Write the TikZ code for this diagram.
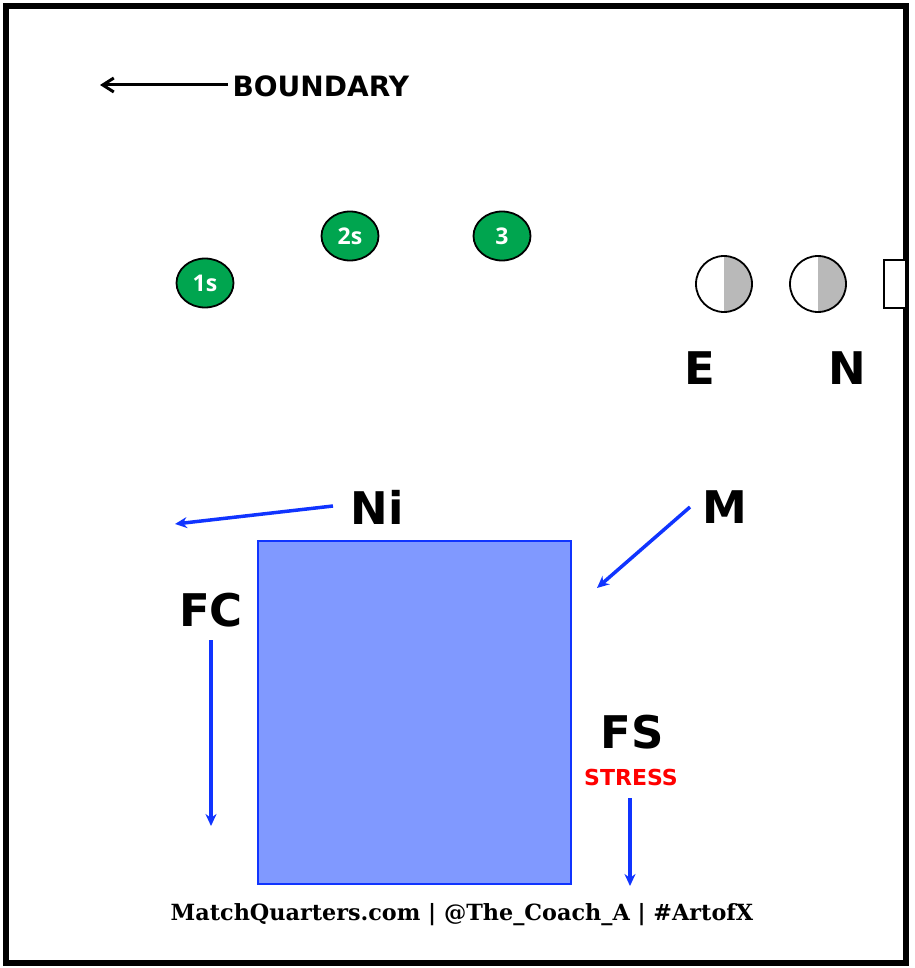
\documentclass[tikz,border=0pt]{standalone}
\usepackage{fontspec}
\setmainfont{DejaVu Sans}
\newfontfamily\serifb{DejaVu Serif}
\newfontfamily\opens{Open Sans}
\usetikzlibrary{arrows.meta,shapes.geometric}
\definecolor{pgreen}{HTML}{00A54F}
\definecolor{pblue}{HTML}{1034FF}
\definecolor{sq}{HTML}{8099FF}
\begin{document}
\begin{tikzpicture}[x=1pt,y=-1pt,
  off/.style={draw=black,line width=1.8pt,fill=pgreen,ellipse,minimum width=57pt,minimum height=49pt,inner sep=0pt,text=white,font=\opens\bfseries\fontsize{23}{23}\selectfont},
  big/.style={font=\bfseries\fontsize{45}{45}\selectfont},
  mv/.style={pblue,line width=3.5pt,-{Stealth[length=12pt,width=11pt]}}]
\useasboundingbox (0,0) rectangle (914,968);
\fill[white] (0,0) rectangle (914,968);
\draw[line width=6pt] (6,6) rectangle (906,963);
\coordinate (b1) at (228,85); \coordinate (b2) at (100,85);
\draw[line width=3pt,-{Straight Barb[length=11pt,width=14pt]}] (b1) -- (b2);
\node[anchor=west,font=\bfseries\fontsize{28}{28}\selectfont] (bt) at (229,86) {BOUNDARY};
\node[off] (o1) at (205,283) {1s};
\node[off] (o2) at (350,236) {2s};
\node[off] (o3) at (502,236) {3};
\foreach \n/\x in {e/724,n/818}{
  \fill[white] (\x,256) arc[start angle=-90,end angle=-270,radius=28];
  \fill[gray!55] (\x,256) arc[start angle=-90,end angle=90,radius=28];
  \draw[line width=1.8pt] (\x,284) circle[radius=28];
}
\draw[line width=1.8pt,fill=white] (884,260) rectangle (906,308);
\node[big] (E) at (700,368) {E};
\node[big] (N) at (847,368) {N};
\node[draw=pblue,line width=1.5pt,fill=sq,minimum width=313pt,minimum height=343pt,inner sep=0pt] (sqr) at (414.5,712.5) {};
\node[big] (Ni) at (377,507) {Ni};
\coordinate (ni2) at (175,524);
\draw[mv] (333,506) -- (ni2);
\node[big] (M) at (725,507) {M};
\coordinate (m2) at (597,588);
\draw[mv] (690,507) -- (m2);
\node[big] (FC) at (211,610) {FC};
\coordinate (fc2) at (211,826);
\draw[mv] (211,640) -- (fc2);
\node[big] (FS) at (632,732) {FS};
\node[red,font=\bfseries\fontsize{22}{22}\selectfont] (st) at (631,777) {STRESS};
\coordinate (fs2) at (630,886);
\draw[mv] (630,798) -- (fs2);
\node[font=\serifb\bfseries\fontsize{22.3}{22}\selectfont] (ft) at (462,915) {MatchQuarters.com | @The\_Coach\_A | \#ArtofX};
\end{tikzpicture}
\end{document}
